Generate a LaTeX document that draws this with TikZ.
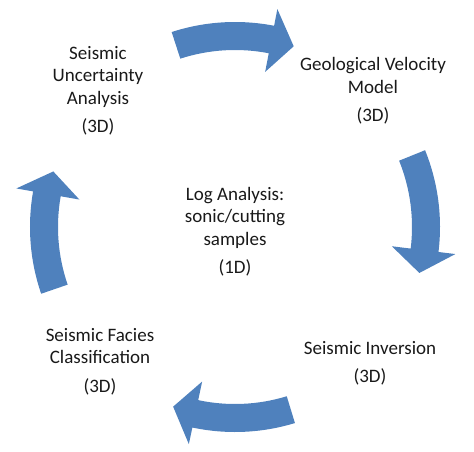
\documentclass[tikz,border=0pt]{standalone}
\usepackage{fontspec}
\setmainfont{Carlito}
\usepackage{tikz}
\usetikzlibrary{positioning}
\definecolor{flowblue}{RGB}{79,129,189}
\definecolor{labelgray}{RGB}{25,25,25}
\tikzset{
    stage/.style={align=center, inner sep=0pt, text=labelgray,
        font=\fontsize{19}{22.5}\selectfont},
    flow/.style={fill=flowblue, draw=none},
}

\begin{document}
\begin{tikzpicture}[x=1pt, y=1pt]
    \useasboundingbox (0,0) rectangle (474,451);
    % the four steps round the cycle
    \node[stage] (uncert) at (98,360) {Seismic\\Uncertainty\\Analysis\\[6pt](3D)};
    \node[stage] (velmod) at (373,360) {Geological Velocity\\Model\\[6pt](3D)};
    \node[stage] (facies) at (100,89.5) {Seismic Facies\\Classification\\[6pt](3D)};
    \node[stage] (invers) at (370,87.5) {Seismic Inversion\\[6pt](3D)};
    \node[stage] (logana) at (235,219.5) {Log Analysis:\\sonic/cutting\\samples\\[6pt](1D)};
    % curved block arrows, clockwise
    \begin{scope}[shift={(235,224)}]
      \fill[flow] (108:205pt) arc[start angle=108, end angle=79, radius=205pt] -- (79:222pt) -- (72:190pt)
        -- (79:158pt) -- (79:177pt) arc[start angle=79, end angle=108, radius=177pt] -- cycle;
      \fill[flow] (22:205pt) arc[start angle=22, end angle=-7, radius=205pt] -- (-7:222pt) -- (-14:190pt)
        -- (-7:158pt) -- (-7:177pt) arc[start angle=-7, end angle=22, radius=177pt] -- cycle;
      \fill[flow] (-73:205pt) arc[start angle=-73, end angle=-102, radius=205pt] -- (-102:222pt) -- (-109:190pt)
        -- (-102:158pt) -- (-102:177pt) arc[start angle=-102, end angle=-73, radius=177pt] -- cycle;
      \fill[flow] (199:205pt) arc[start angle=199, end angle=170, radius=205pt] -- (170:222pt) -- (163:190pt)
        -- (170:158pt) -- (170:177pt) arc[start angle=170, end angle=199, radius=177pt] -- cycle;
    \end{scope}
\end{tikzpicture}
\end{document}
